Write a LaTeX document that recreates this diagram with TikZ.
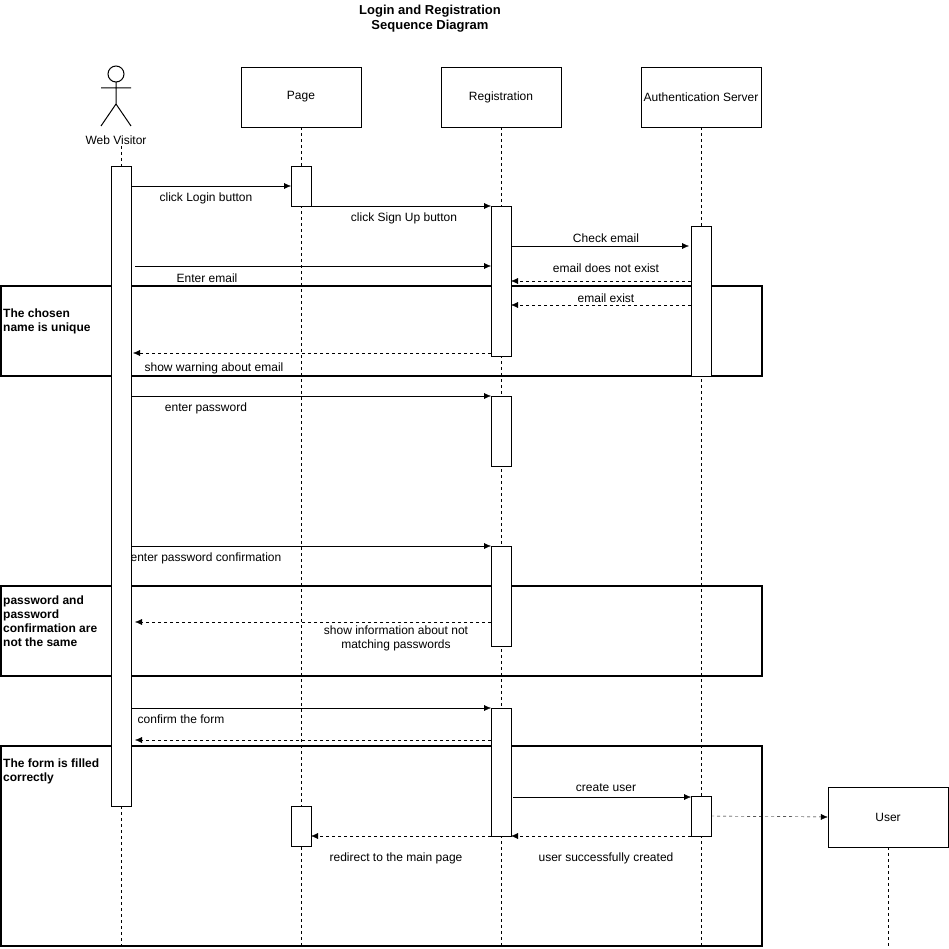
\documentclass[tikz,border=0pt]{standalone}
\usepackage{fontspec}
\setmainfont{Liberation Sans}
\usetikzlibrary{arrows.meta}
\begin{document}
\begin{tikzpicture}[x=1pt,y=-1pt,
  box/.style={draw,minimum width=120pt,minimum height=60pt,inner sep=0pt,font=\fontsize{12}{14}\selectfont},
  act/.style={draw,fill=white,minimum width=20pt,inner sep=0pt},
  life/.style={dash pattern=on 3pt off 3pt},
  msg/.style={-{Latex[length=7pt,width=6pt]}},
  ret/.style={dash pattern=on 3pt off 3pt,-{Latex[length=7pt,width=6pt]}},
  lbl/.style={font=\fontsize{12}{14}\selectfont,inner sep=0pt},
  frm/.style={draw,line width=1.5pt},
  flbl/.style={font=\bfseries\fontsize{12}{14}\selectfont,align=left,anchor=north west,inner sep=0pt}]
\useasboundingbox (0,0) rectangle (949,949);
\node[font=\bfseries\fontsize{13}{15}\selectfont,align=center] (title) at (430,18.5) {Login and Registration\\Sequence Diagram};
% lifelines
\coordinate (wvt) at (121,146); \coordinate (wvb) at (121,946);
\draw[life] (wvt) -- (wvb);
\node[box] (page) at (301,97) {Page};
\node[box] (reg) at (501,97) {Registration};
\node[box] (auth) at (701,97) {Authentication Server};
\coordinate (pb) at (301,946); \coordinate (rb) at (501,946); \coordinate (ab) at (701,946);
\draw[life] (page.south) -- (pb);
\draw[life] (reg.south) -- (rb);
\draw[life] (auth.south) -- (ab);
\node[box] (user) at (888,817) {User};
\coordinate (ub) at (888,946);
\draw[life] (user.south) -- (ub);
% actor
\draw[line width=1pt] (116,74) circle (8);
\draw[line width=1pt] (116,82) -- (116,104) (101,88) -- (131,88) (101,126) -- (116,104) -- (131,126);
\node[lbl] (wv) at (116,140) {Web Visitor};
% frames
\draw[frm] (1,286) rectangle (762,376);
\node[flbl] (f1) at (3,309) {The chosen\\name is unique};
\draw[frm] (1,586) rectangle (762,676);
\node[flbl] (f2) at (3,596) {password and\\password\\confirmation are\\not the same};
\draw[frm] (1,746) rectangle (762,946);
\node[flbl] (f3) at (3,759) {The form is filled\\correctly};
% activations
\node[act,minimum height=640pt] (wva) at (121,486) {};
\node[act,minimum height=40pt] (pa1) at (301,186) {};
\node[act,minimum height=40pt] (pa2) at (301,826) {};
\node[act,minimum height=150pt] (ra1) at (501,281) {};
\node[act,minimum height=70pt] (ra2) at (501,431) {};
\node[act,minimum height=100pt] (ra3) at (501,596) {};
\node[act,minimum height=128pt] (ra4) at (501,772) {};
\node[act,minimum height=150pt] (aa1) at (701,301) {};
\node[act,minimum height=40pt] (aa2) at (701,816) {};
% messages
\draw[msg] (131,186) -- (291,186);
\node[lbl] (m1) at (206,198) {click Login button};
\draw[msg] (311,206) -- (491,206);
\node[lbl] (m2) at (404,218) {click Sign Up button};
\draw[msg] (511,246) -- (689,246);
\node[lbl] (m3) at (606,238) {Check email};
\draw[msg] (135,266) -- (491,266);
\node[lbl] (m4) at (207,278) {Enter email};
\draw[ret] (691,281) -- (511,281);
\node[lbl] (m5) at (606,268) {email does not exist};
\draw[ret] (691,305) -- (511,305);
\node[lbl] (m6) at (606,298) {email exist};
\draw[ret] (491,353) -- (133,353);
\node[lbl] (m7) at (214,368) {show warning about email};
\draw[msg] (131,396) -- (491,396);
\node[lbl] (m8) at (206,408) {enter password};
\draw[msg] (131,546) -- (491,546);
\node[lbl] (m9) at (206,558) {enter password confirmation};
\draw[ret] (491,622) -- (135,622);
\node[lbl,align=center] (m10) at (396,638) {show information about not\\matching passwords};
\draw[msg] (131,708) -- (491,708);
\node[lbl] (m11) at (181,719) {confirm the form};
\draw[ret] (491,740) -- (135,740);
\draw[msg] (513,797) -- (691,797);
\node[lbl] (m12) at (606,788) {create user};
\draw[ret] (711,816) -- (user.west);
\draw[ret] (691,836) -- (511,836);
\node[lbl] (m13) at (606,858) {user successfully created};
\draw[ret] (491,836) -- (311,836);
\node[lbl] (m14) at (396,858) {redirect to the main page};
\end{tikzpicture}
\end{document}
